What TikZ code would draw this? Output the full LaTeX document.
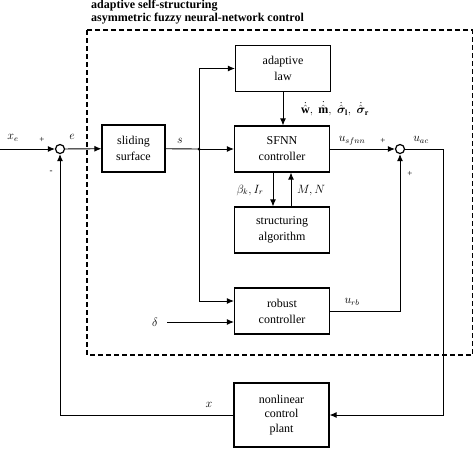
\documentclass[tikz,border=0pt]{standalone}
\usepackage{amsmath,bm}
\usepackage{fontspec}
\setmainfont{Liberation Serif}
\usetikzlibrary{arrows.meta, positioning}

\begin{document}
\begin{tikzpicture}[x=1pt, y=-1pt,
    blk/.style={draw, line width=1.2pt, minimum width=95pt, minimum height=46pt, align=center, inner sep=1pt, font=\fontsize{12}{16}\selectfont},
    sumnode/.style={draw, circle, fill=white, line width=1.2pt, minimum size=9pt, inner sep=0pt},
    sig/.style={line width=0.9pt},
    arr/.style={sig, -{Latex[length=7pt, width=6pt]}},
    lbl/.style={font=\fontsize{12}{14}\selectfont, inner sep=0pt},
    sgn/.style={font=\fontsize{9}{10}\selectfont, inner sep=0pt}]
    \useasboundingbox (0,0) rectangle (474,448);

    % --- Title and dashed controller frame ---
    \node[font=\fontsize{12}{12.4}\selectfont\bfseries, align=left, anchor=north west, inner sep=0pt] (title) at (91,0) {adaptive self-structuring\\asymmetric fuzzy neural-network control};
    \draw[line width=1.4pt, dash pattern=on 5pt off 3pt] (87,30) rectangle (472.5,355);

    % --- Blocks ---
    \node[blk] (law) at (283,68.5) {adaptive\\law};
    \node[blk] (sfnn) at (282,149) {SFNN\\controller};
    \node[blk] (algo) at (282,230) {structuring\\algorithm};
    \node[blk] (robust) at (282,311) {robust\\controller};
    \node[blk, minimum height=64pt, font=\fontsize{12}{14.5}\selectfont] (plant) at (281.5,415) {nonlinear\\control\\plant};
    \node[blk, minimum width=63pt, minimum height=47pt] (slide) at (133.5,148.5) {sliding\\surface};

    % Summing junctions
    \node[sumnode] (sumA) at (60,149) {};
    \node[sumnode] (sumB) at (400,149) {};

    \coordinate (xin) at (0,149);
    \coordinate (split) at (199,149);
    \coordinate (acR) at (443,149);
    \fill (split) circle (1.5pt);

    % --- Signals ---
    \draw[arr] (xin) -- (sumA);
    \draw[arr] (sumA) -- (slide);
    \draw[sig] (slide) -- (split);
    \draw[arr] (split) -- (sfnn);
    \draw[arr] (split) |- (law);
    \draw[arr] (split) |- ([yshift=10pt]robust.west);
    \draw[arr] (law.south) -- (law.south |- sfnn.north);
    \draw[arr] ([xshift=-9pt]sfnn.south) -- ([xshift=-9pt]algo.north);
    \draw[arr] ([xshift=9pt]algo.north) -- ([xshift=9pt]sfnn.south);
    \draw[arr] (sfnn) -- (sumB);
    \draw[sig] (sumB) -- (acR);
    \draw[arr] (acR) |- (plant);
    \draw[arr] (robust) -| (sumB);
    \draw[arr] (plant) -| (sumA);

    % Disturbance input
    \node[lbl] (dlt) at (155,322) {$\delta$};
    \draw[arr] ([xshift=9pt]dlt.east) -- (dlt -| robust.west);

    % --- Labels ---
    \node[lbl] (lxe) at (13,138) {$x_e$};
    \node[sgn] (pA) at (42,140) {+};
    \node[sgn] (mA) at (51,172) {-};
    \node[lbl] (le) at (72,137) {$e$};
    \node[lbl] (ls) at (180,141) {$s$};
    \node[lbl] (lrate) at (335,109) {$\dot{\hat{\mathbf{w}}},\; \dot{\hat{\mathbf{m}}},\; \dot{\hat{\boldsymbol{\sigma}}}_{\mathbf{l}},\; \dot{\hat{\boldsymbol{\sigma}}}_{\mathbf{r}}$};
    \node[lbl] (lbeta) at (250,190) {$\beta_k, I_r$};
    \node[lbl] (lmn) at (311,191) {$M, N$};
    \node[lbl] (lsfnn) at (352,141) {$u_{sfnn}$};
    \node[sgn] (pB) at (383,141) {+};
    \node[lbl] (lac) at (421,140) {$u_{ac}$};
    \node[sgn] (pC) at (410,174) {+};
    \node[lbl] (lrb) at (352,302) {$u_{rb}$};
    \node[lbl] (lx) at (209,405) {$x$};
\end{tikzpicture}
\end{document}
